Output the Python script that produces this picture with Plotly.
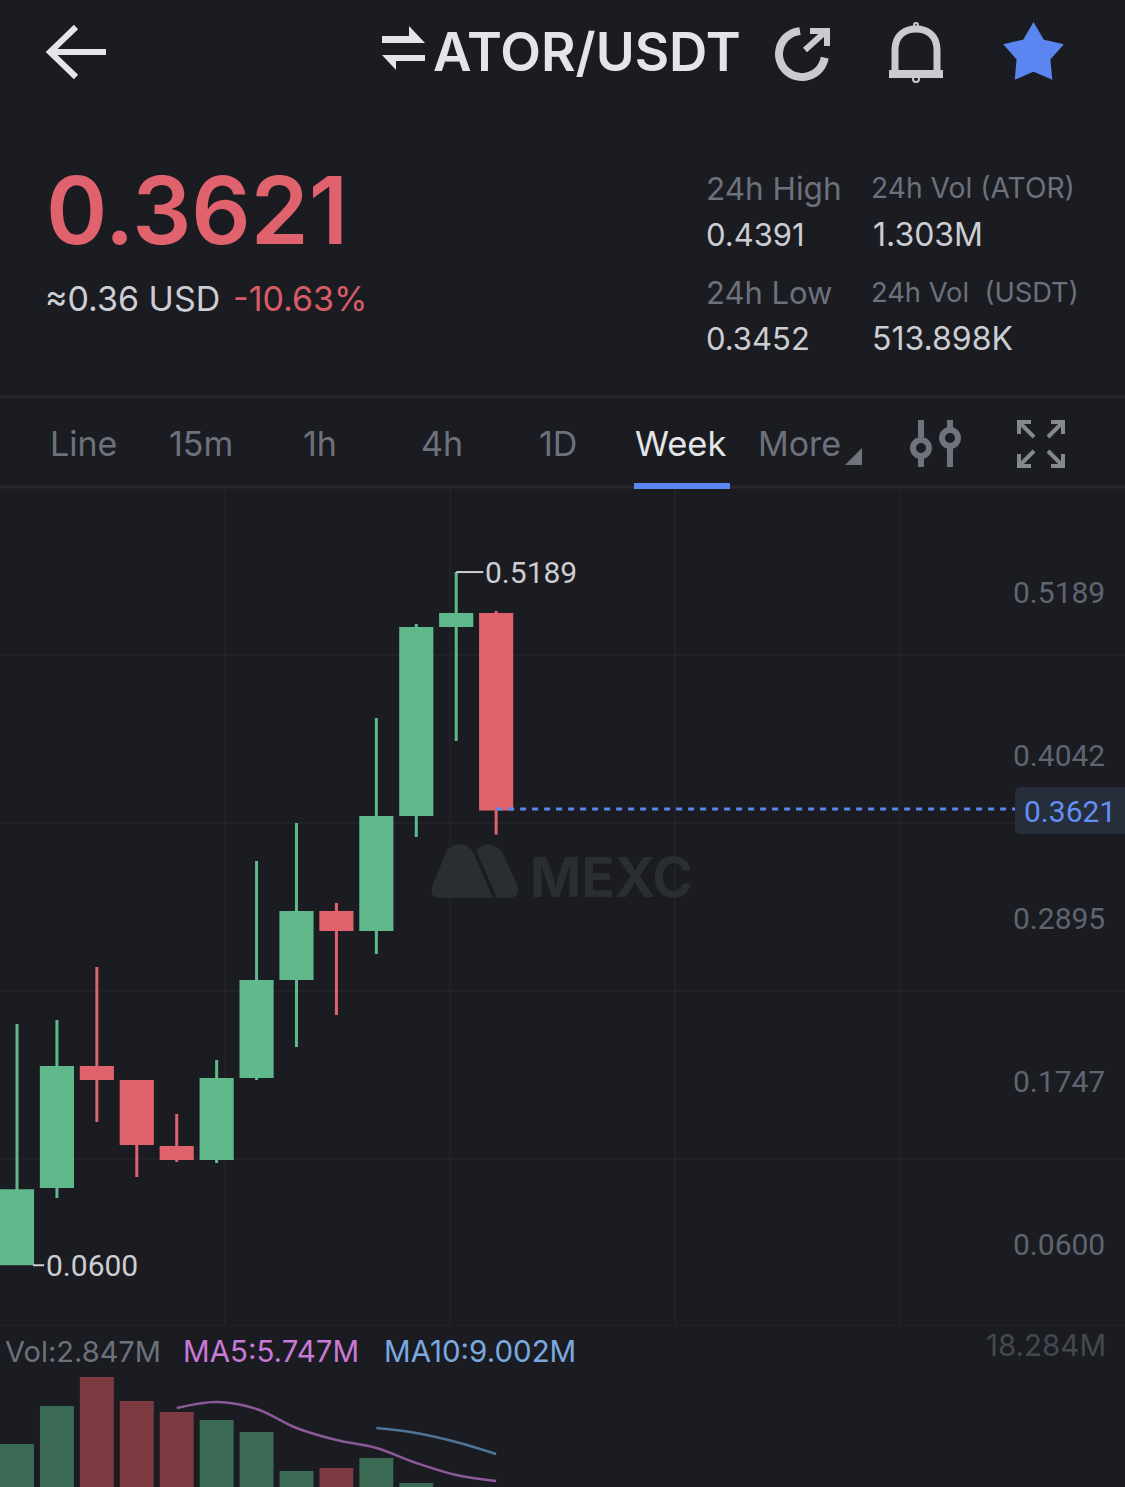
import math
import plotly.graph_objects as go

# weekly candles
weeks = list(range(13))
opens = [0.0610, 0.1121, 0.1909, 0.1816, 0.1379, 0.1306, 0.1849, 0.2498, 0.2935, 0.2822, 0.3584, 0.4835, 0.4908]
highs = [0.2197, 0.2223, 0.2574, 0.1816, 0.1601, 0.1958, 0.3276, 0.3527, 0.2998, 0.4222, 0.4845, 0.5189, 0.4931]
lows = [0.0600, 0.1045, 0.1548, 0.1184, 0.1283, 0.1277, 0.1826, 0.2044, 0.2256, 0.2660, 0.3435, 0.4070, 0.3452]
closes = [0.1094, 0.1909, 0.1836, 0.1406, 0.1306, 0.1829, 0.2478, 0.2935, 0.2822, 0.3564, 0.4815, 0.4908, 0.3621]

volumes = [10.21, 14.79, 18.284, 15.39, 14.06, 13.10, 11.65, 6.95, 7.31, 8.52, 5.51, 4.2, 2.847]
ma5_weeks = [4, 5, 6, 7, 8, 9, 10, 11, 12]
ma5 = [14.55, 15.27, 14.43, 12.14, 10.69, 9.73, 7.92, 6.47, 5.747]
ma10_weeks = [9, 10, 11, 12]
ma10 = [12.14, 11.54, 10.45, 9.002]

price_ticks = ["0.5189", "0.4042", "0.2895", "0.1747", "0.0600"]
last_price = 0.3621
high_price = 0.5189
low_price = 0.0600

BG = "#1b1c21"
GRID = "#202227"
GREEN = "#60b98b"
RED = "#e0626c"
BLUE = "#5b85f0"
VOL_GREEN = "#3b6b54"
VOL_RED = "#7d3a41"
MUTED = "#6c717c"
LIGHT = "#ccced3"
ICON = "#c9cbcf"
FONT = "Inter"

fig = go.Figure()

# price pane
fig.add_trace(go.Candlestick(
    x=weeks, open=opens, high=highs, low=lows, close=closes,
    increasing=dict(line=dict(color=GREEN, width=3), fillcolor=GREEN),
    decreasing=dict(line=dict(color=RED, width=3), fillcolor=RED),
    whiskerwidth=0, showlegend=False, xaxis="x", yaxis="y",
))
fig.add_trace(go.Scatter(x=[12, 25], y=[last_price, last_price], mode="lines",
                         line=dict(color=BLUE, width=3, dash="6px 6px"), showlegend=False))
fig.add_trace(go.Scatter(x=[11, 11.68], y=[high_price, high_price], mode="lines",
                         line=dict(color=LIGHT, width=2), showlegend=False))
fig.add_trace(go.Scatter(x=[0.4, 0.68], y=[low_price, low_price], mode="lines",
                         line=dict(color=LIGHT, width=2), showlegend=False))

# volume pane
vol_colors = [VOL_GREEN if c >= o else VOL_RED for o, c in zip(opens, closes)]
fig.add_trace(go.Bar(x=weeks, y=volumes, width=0.85, marker=dict(color=vol_colors, line_width=0),
                     xaxis="x", yaxis="y2", showlegend=False))
fig.add_trace(go.Scatter(x=ma5_weeks, y=ma5, mode="lines", line=dict(color="#8c5a96", width=2.5, shape="spline"),
                         xaxis="x", yaxis="y2", showlegend=False))
fig.add_trace(go.Scatter(x=ma10_weeks, y=ma10, mode="lines", line=dict(color="#4c7596", width=2.5, shape="spline"),
                         xaxis="x", yaxis="y2", showlegend=False))

# empty trace so the pixel axes for the app chrome exist
fig.add_trace(go.Scatter(x=[0], y=[0], mode="markers", marker=dict(opacity=0), xaxis="x3", yaxis="y3",
                         showlegend=False, hoverinfo="skip"))


def label(text, x, y, size, color, anchor="left", weight=400, family=FONT):
    fig.add_annotation(text=text, x=x, y=y, xref="x3", yref="y3", showarrow=False, xanchor=anchor,
                       yanchor="middle", borderpad=0, font=dict(family=family, size=size, color=color, weight=weight))


def path(d, stroke=None, fill=None, width=0, layer="above"):
    fig.add_shape(type="path", path=d, xref="x3", yref="y3", layer=layer,
                  line=dict(color=stroke or "rgba(0,0,0,0)", width=width),
                  fillcolor=fill or "rgba(0,0,0,0)")


def circle(cx, cy, r, stroke, width):
    fig.add_shape(type="circle", x0=cx - r, x1=cx + r, y0=cy - r, y1=cy + r, xref="x3", yref="y3",
                  line=dict(color=stroke, width=width))


# grid and separators
for gx in [225, 450, 675, 900]:
    path(f"M{gx},488 L{gx},1487", stroke=GRID, width=2, layer="below")
for gy in [655, 823, 991, 1159, 1326]:
    path(f"M0,{gy} L1125,{gy}", stroke=GRID, width=2, layer="below")
path("M0,397 L1125,397", stroke="#26282d", width=3, layer="below")
path("M0,487 L1125,487", stroke="#26282d", width=3, layer="below")

# header
path("M76,27 L50,52 L76,77 M50,52 L106,52", stroke="#e4e5e8", width=6)
path("M382,36 L409,36 L409,26 L425,43 L382,43 Z", fill="#e4e5e8")
path("M425,55 L382,55 L396,70 L396,61 L425,61 Z", fill="#e4e5e8")
label("ATOR/USDT", 432, 52, 53, "#e4e5e8", weight=600)

arc = []
for deg in range(-95, -358, -8):
    arc.append(f"{802 + 23 * math.cos(math.radians(deg)):.1f},{54 + 23 * math.sin(math.radians(deg)):.1f}")
path("M" + " L".join(arc), stroke=ICON, width=8)
path("M805,50 L825,32 M810,31 L827,31 L827,46", stroke=ICON, width=6)

path("M895,72 L895,50 C895,35 905,29 916,29 C927,29 937,35 937,50 L937,72", stroke=ICON, width=7)
path("M889,70 L943,70 L943,78 L889,78 Z", fill=ICON)
circle(916, 79, 3, ICON, 2)
circle(916, 25, 2, ICON, 2)

star = []
for k in range(10):
    r = 27 if k % 2 == 0 else 15
    a = math.radians(-90 + 36 * k)
    star.append(f"{1033.5 + r * math.cos(a):.1f},{54 + r * math.sin(a):.1f}")
path("M" + " L".join(star) + " Z", stroke=BLUE, fill=BLUE, width=5)

# price block
label("0.3621", 45, 210, 93, RED, weight=600)
label("≈0.36 USD", 44, 298, 34, LIGHT)
label("-10.63%", 232, 298, 34, "#d85c66")
label("24h High", 705, 188, 31.5, MUTED)
label("24h Vol (ATOR)", 870, 188, 28.2, MUTED)
label("0.4391", 705, 234, 31, LIGHT)
label("1.303M", 871.5, 234, 32, LIGHT)
label("24h Low", 705, 292, 31, MUTED)
label("24h Vol  (USDT)", 870, 292, 27.3, MUTED)
label("0.3452", 705, 338, 31, LIGHT)
label("513.898K", 871, 338, 32, LIGHT)

# interval tabs
for name, tx in [("Line", 49), ("15m", 168), ("1h", 302), ("4h", 420), ("1D", 538), ("More", 757)]:
    label(name, tx, 443, 34, MUTED)
label("Week", 634, 443, 34.5, "#e4e5e8")
path("M634,483 L730,483 L730,489 L634,489 Z", fill=BLUE)
path("M862,448 L862,465 L845,465 Z", fill="#6f737b")

path("M921,420 L921,437 M921,458 L921,467 M950,420 L950,428 M950,448 L950,467", stroke="#6f737b", width=6)
circle(921, 448, 8, "#6f737b", 6)
circle(950, 438, 8, "#6f737b", 6)
path("M1021,424 L1034,437 M1019,434 L1019,422 L1031,422 "
     "M1061,424 L1048,437 M1051,422 L1063,422 L1063,434 "
     "M1021,464 L1034,451 M1019,454 L1019,466 L1031,466 "
     "M1061,464 L1048,451 M1051,466 L1063,466 L1063,454", stroke="#85888f", width=4)

# watermark
path("M447,850 Q460,838 472,850 L493,898 L441,898 Q428,898 433,884 Z", fill="#2a2d31", layer="below")
path("M476,850 Q490,838 502,852 L517,884 Q522,898 507,898 L497,898 Z", fill="#2a2d31", layer="below")
label("MEXC", 529, 877, 55, "#2a2d31", weight=700)

# axis labels and value tags
for tick, ty in zip(price_ticks, [592, 755, 918, 1081, 1244]):
    label(tick, 1106, ty, 30, "#5f646e", anchor="right", family="Roboto")
path("M1021,787 L1125,787 L1125,834 L1021,834 Q1015,834 1015,828 L1015,793 Q1015,787 1021,787 Z", fill="#262d3b")
label("0.3621", 1023, 811, 30, "#648ff5", family="Roboto")
label("0.5189", 484, 572, 30, LIGHT, family="Roboto")
label("0.0600", 45, 1265, 30, LIGHT, family="Roboto")
label("18.284M", 1107, 1345, 29.5, "#44484f", anchor="right")
label("2.847M", 1107, 1492, 29.5, "#44484f", anchor="right")
label("Vol:2.847M", 4, 1351, 29, MUTED)
label("MA5:5.747M", 182, 1351, 29.5, "#c77ad6")
label("MA10:9.002M", 383, 1351, 29.5, "#7aa9e0")

fig.update_layout(
    width=1125, height=1487, margin=dict(l=0, r=0, t=0, b=0),
    paper_bgcolor=BG, plot_bgcolor=BG, boxgap=0.22, boxgroupgap=0, showlegend=False, hovermode=False,
    xaxis=dict(range=[-0.4257, 27.75], visible=False, rangeslider=dict(visible=False), domain=[0, 1]),
    yaxis=dict(range=[-0.0868, 0.8976], visible=False, domain=[0, 1]),
    yaxis2=dict(range=[5.029, 24.43], visible=False, domain=[0, 161 / 1487], anchor="x"),
    xaxis3=dict(range=[0, 1125], visible=False, domain=[0, 1], overlaying="x", anchor="y3"),
    yaxis3=dict(range=[1487, 0], visible=False, domain=[0, 1], overlaying="y", anchor="x3"),
)

fig.write_html("out.html", config=dict(displayModeBar=False),
               post_script="document.body.style.margin='0';document.documentElement.style.overflow='hidden';")
